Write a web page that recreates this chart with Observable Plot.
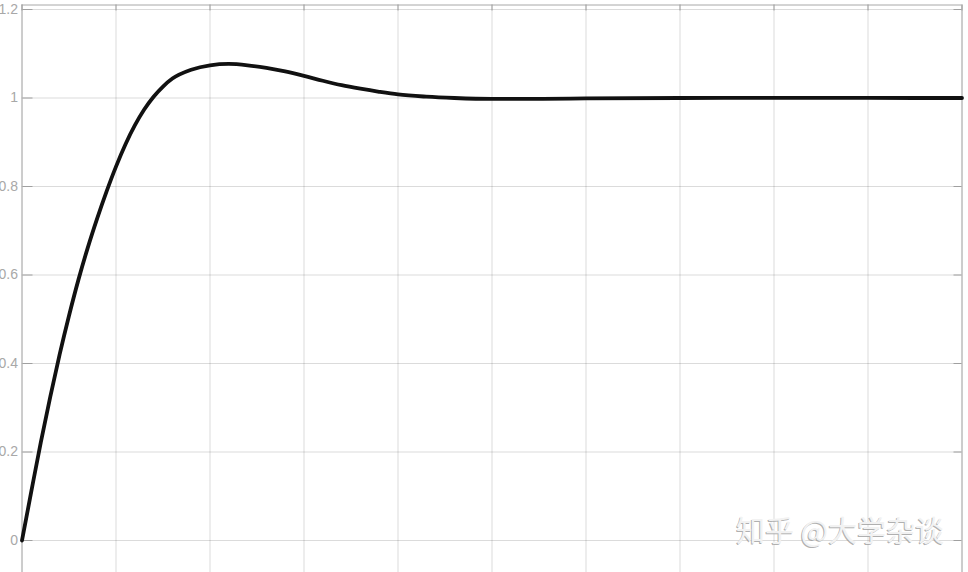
<!DOCTYPE html>
<html>
<head>
<meta charset="utf-8">
<script src="https://cdn.jsdelivr.net/npm/d3@7"></script>
<script src="https://cdn.jsdelivr.net/npm/@observablehq/plot@0.6"></script>
<style>
  html, body { margin: 0; padding: 0; background: #fff; }
  #chart svg { display: block; }
</style>
</head>
<body>
<div id="chart"></div>
<script>
// Step-response values
const time = [0, 0.1, 0.2, 0.3, 0.4, 0.5, 0.6, 0.7, 0.8, 0.9, 1.0, 1.1, 1.2, 1.3, 1.4, 1.5, 1.6, 1.8, 2.0, 2.2, 2.4, 2.6, 2.8, 3.0, 3.2, 3.4, 3.6, 3.8, 4.0, 4.3, 4.6, 5.0, 5.5, 6, 7, 8, 9, 10];
const response = [0, 0.112, 0.222, 0.324, 0.42, 0.508, 0.589, 0.662, 0.728, 0.789, 0.845, 0.895, 0.938, 0.974, 1.003, 1.026, 1.044, 1.064, 1.074, 1.077, 1.074, 1.068, 1.06, 1.05, 1.039, 1.029, 1.021, 1.014, 1.008, 1.003, 1.0, 0.998, 0.998, 0.999, 1.0, 1.0003, 1.0001, 1.0];

const xDomain = [0, 10];
const yDomain = [-0.0723, 1.2102];
const xTicks = [0, 1, 2, 3, 4, 5, 6, 7, 8, 9, 10];
const xGrid = [1, 2, 3, 4, 5, 6, 7, 8, 9];
const yTicks = [0, 0.2, 0.4, 0.6, 0.8, 1, 1.2];
const yTickLabels = ["0", "0.2", "0.4", "0.6", "0.8", "1", "1.2"];
const watermark = ["知乎 @大学杂谈"];

const data = time.map((t, i) => ({t, v: response[i]}));

const chart = Plot.plot({
  width: 968,
  height: 572,
  marginLeft: 21.5,
  marginRight: 6.5,
  marginTop: 4.5,
  marginBottom: 0,
  style: {background: "#fff", fontFamily: "'Liberation Sans', Arial, sans-serif", overflow: "visible"},
  x: {domain: xDomain},
  y: {domain: yDomain},
  marks: [
    Plot.gridX(xGrid, {stroke: "#000", strokeOpacity: 0.14}),
    Plot.gridY(yTicks, {stroke: "#000", strokeOpacity: 0.14}),
    // box lines (left, right, top)
    Plot.ruleX([xDomain[0], xDomain[1]], {stroke: "#9a9a9a"}),
    Plot.ruleY([yDomain[1]], {stroke: "#a8a8a8"}),
    // inward ticks
    Plot.axisY(yTicks, {anchor: "right", frameAnchor: "left", tickSize: 10, fill: "none", stroke: "#a0a0a0", label: null}),
    Plot.axisY(yTicks, {anchor: "left", frameAnchor: "right", tickSize: 8, fill: "none", stroke: "#a0a0a0", label: null}),
    Plot.axisX(xTicks, {anchor: "bottom", frameAnchor: "top", tickSize: 6, fill: "none", stroke: "#a0a0a0", label: null}),
    // tick labels
    Plot.text(yTicks, {y: (d) => d, text: (d, i) => yTickLabels[i], frameAnchor: "left", dx: -4, textAnchor: "end",
      fontSize: 14, fill: "#a8a8a8", fontFamily: "'Liberation Sans', Arial, sans-serif"}),
    // response curve
    Plot.line(data, {x: "t", y: "v", stroke: "#111", strokeWidth: 3.8, curve: "monotone-x"}),
    // watermark (embossed look)
    Plot.text(watermark, {frameAnchor: "bottom-right", dx: -19, dy: -30, textAnchor: "end", lineAnchor: "bottom",
      fontSize: 29, fontFamily: "'Noto Sans CJK SC', sans-serif", fill: "#9a9a9a", fillOpacity: 0.8}),
    Plot.text(watermark, {frameAnchor: "bottom-right", dx: -18, dy: -31, textAnchor: "end", lineAnchor: "bottom",
      fontSize: 29, fontFamily: "'Noto Sans CJK SC', sans-serif", fill: "#f2f2f2"})
  ]
});
document.getElementById("chart").append(chart);
</script>
</body>
</html>
